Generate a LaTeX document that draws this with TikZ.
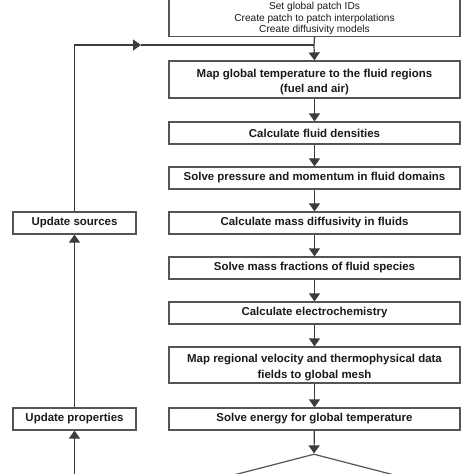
\documentclass[tikz,border=0pt]{standalone}
\usepackage{fontspec}
\setmainfont{Liberation Sans}
\usetikzlibrary{arrows.meta,shapes.geometric}
\definecolor{linegray}{HTML}{3C3C3C}
\definecolor{boxgray}{HTML}{555555}
\definecolor{txt}{HTML}{1A1A1A}
\newcommand{\twoline}[2]{\raisebox{-2.5bp}[\height][\depth]{\begin{tabular}{@{}c@{}}#1\\[1bp]#2\end{tabular}}}
\newcommand{\threeline}[3]{\raisebox{-4bp}[\height][\depth]{\begin{tabular}{@{}c@{}}#1\\[-1.5bp]#2\\[-1.5bp]#3\end{tabular}}}
\begin{document}
\begin{tikzpicture}[x=1bp,y=-1bp,
  proc/.style={draw=boxgray,line width=1.2bp,fill=white,rectangle,minimum width=291bp,minimum height=22bp,
    inner sep=1bp,align=center,font=\fontsize{11.5}{15}\selectfont\bfseries,text=txt},
  side/.style={proc,minimum width=123bp},
  init/.style={proc,font=\fontsize{10.2}{13}\selectfont},
  conn/.style={draw=linegray,line width=1.2bp},
  arr/.style={conn,-{Triangle[width=11bp,length=8bp]}}]
\useasboundingbox (0,0) rectangle (474,474);
\node[init,minimum height=44bp] (init) at (314.5,14.5) {\threeline{Set global patch IDs}{Create patch to patch interpolations}{Create diffusivity models}};
\node[proc,minimum height=37bp] (map) at (314.5,79.5) {\twoline{Map global temperature to the fluid regions}{(fuel and air)}};
\node[proc] (dens) at (314.5,133) {Calculate fluid densities};
\node[proc] (press) at (314.5,178) {Solve pressure and momentum in fluid domains};
\node[proc] (diff) at (314.5,223) {Calculate mass diffusivity in fluids};
\node[proc] (frac) at (314.5,268) {Solve mass fractions of fluid species};
\node[proc] (elec) at (314.5,313) {Calculate electrochemistry};
\node[proc,minimum height=36bp] (mapr) at (314.5,365) {\twoline{Map regional velocity and thermophysical data}{fields to global mesh}};
\node[proc] (energy) at (314.5,419) {Solve energy for global temperature};
\node[side] (us) at (74.5,223) {Update sources};
\node[side] (up) at (74.5,419) {Update properties};
\node[diamond,draw=boxgray,line width=1.2bp,minimum width=308bp,minimum height=80bp,inner sep=0pt] (conv) at (314,494) {};
\coordinate (j) at (314,45);
\coordinate (ah) at (141,45);
\coordinate (bot) at (74.5,480);
\draw[conn] (init.south) -- (j);
\draw[arr] (j) -- (map.north);
\draw[arr] (map) -- (dens);
\draw[arr] (dens) -- (press);
\draw[arr] (press) -- (diff);
\draw[arr] (diff) -- (frac);
\draw[arr] (frac) -- (elec);
\draw[arr] (elec) -- (mapr);
\draw[arr] (mapr) -- (energy);
\draw[arr] (energy) -- (conv.north);
\draw[arr] (us.north) |- (ah);
\draw[conn] (ah) -- (j);
\draw[arr] (up) -- (us);
\draw[arr] (bot) -- (up.south);
\end{tikzpicture}
\end{document}
